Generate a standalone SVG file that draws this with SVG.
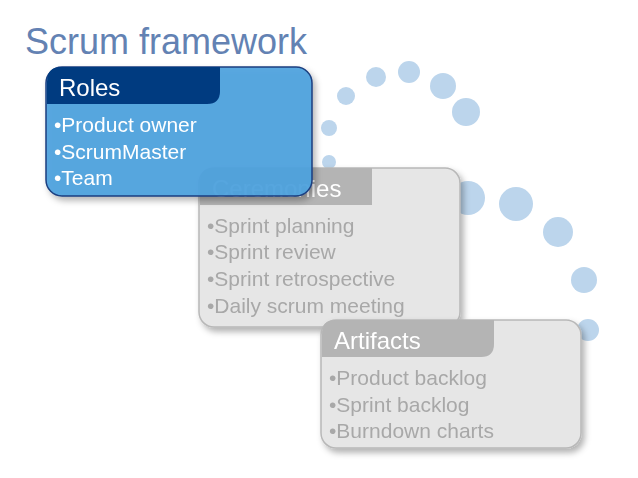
<svg xmlns="http://www.w3.org/2000/svg" width="638" height="478" viewBox="0 0 638 478">
<defs>
<style>
text{font-family:"Liberation Sans",Arial,sans-serif}
.dot{fill:#bcd5ec}
.gbox{fill:#e6e6e6;stroke:#b8b8b8;stroke-width:1.5}
.gtab{fill:#b4b4b4}
.gtxt{fill:#a8a8a8;font-size:21px}
.head{fill:#fff;font-size:24px}
</style>
<filter id="sh" x="-10%" y="-10%" width="130%" height="130%"><feDropShadow dx="3" dy="4" stdDeviation="3" flood-opacity="0.3"/></filter>
</defs>
<rect width="638" height="478" fill="#fff"/>
<text x="25" y="54" font-size="36" fill="#6382b3">Scrum framework</text>
<g id="dots">
<circle class="dot" cx="346" cy="96" r="9"/>
<circle class="dot" cx="376" cy="77" r="10"/>
<circle class="dot" cx="409" cy="72" r="11"/>
<circle class="dot" cx="443" cy="86" r="13"/>
<circle class="dot" cx="466" cy="112" r="14"/>
<circle class="dot" cx="329" cy="128" r="8"/>
<circle class="dot" cx="329" cy="162" r="7"/>
<circle class="dot" cx="468" cy="198" r="17"/>
<circle class="dot" cx="516" cy="204" r="17"/>
<circle class="dot" cx="558" cy="232" r="15"/>
<circle class="dot" cx="584" cy="280" r="13"/>
<circle class="dot" cx="588" cy="330" r="11"/>
</g>
<g id="ceremonies" filter="url(#sh)">
<rect class="gbox" x="199" y="168" width="261" height="159" rx="15"/>
<path class="gtab" d="M213,168 H372 V205 H200 V182 Q200,168 213,168 Z"/>
<text class="head" x="212" y="197">Ceremonies</text>
<text class="gtxt" x="207" y="233">•Sprint planning</text>
<text class="gtxt" x="207" y="259">•Sprint review</text>
<text class="gtxt" x="207" y="286">•Sprint retrospective</text>
<text class="gtxt" x="207" y="313">•Daily scrum meeting</text>
</g>
<g id="roles" filter="url(#sh)">
<rect x="46" y="67" width="266" height="129" rx="16" fill="#4da3df" fill-opacity="0.93" stroke="#1b3f80" stroke-width="1.5"/>
<path d="M61,67 H220 V91 Q220,104 207,104 H47 V82 Q47,67 61,67 Z" fill="#003a80"/>
<text class="head" x="59" y="96" font-size="23">Roles</text>
<text x="54" y="132" font-size="21" fill="#fff">•Product owner</text>
<text x="54" y="159" font-size="21" fill="#fff">•ScrumMaster</text>
<text x="54" y="185" font-size="21" fill="#fff">•Team</text>
</g>
<g id="artifacts" filter="url(#sh)">
<rect class="gbox" x="321" y="320" width="260" height="128" rx="15"/>
<path class="gtab" d="M335,320 H494 V344 Q494,357 481,357 H322 V334 Q322,320 335,320 Z"/>
<text class="head" x="334" y="349">Artifacts</text>
<text class="gtxt" x="329" y="385">•Product backlog</text>
<text class="gtxt" x="329" y="412">•Sprint backlog</text>
<text class="gtxt" x="329" y="438">•Burndown charts</text>
</g>
<g id="connectors"/>
</svg>
